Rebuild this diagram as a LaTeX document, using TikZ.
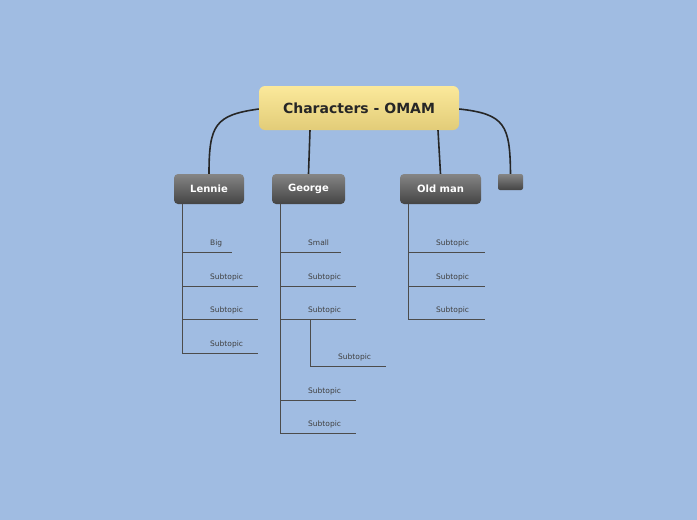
\documentclass[tikz,border=0pt]{standalone}
\usepackage{fontspec}
\setmainfont{DejaVu Sans}
\begin{document}
\begin{tikzpicture}[x=1pt,y=-1pt,
 root/.style={rounded corners=6pt,top color=rootT,bottom color=rootB,draw=none,minimum width=200pt,minimum height=44pt,font=\fontsize{14}{16}\selectfont\bfseries,text=black!85},
 topic/.style={rounded corners=4pt,top color=topT,bottom color=topB,draw=none,minimum height=30pt,font=\fontsize{10}{12}\selectfont\bfseries,text=white},
 conn/.style={draw=black!85,line width=1.6pt},
 sub/.style={draw=black!70,line width=0.6pt},
 lab/.style={font=\fontsize{7.5}{9}\selectfont,text=black!75,anchor=west,inner sep=0pt}]
\definecolor{bg}{HTML}{A0BCE2}
\definecolor{rootT}{HTML}{FBE99B}
\definecolor{rootB}{HTML}{E2CC78}
\definecolor{topT}{HTML}{858585}
\definecolor{topB}{HTML}{444444}
\fill[bg] (0,0) rectangle (697,520);
\useasboundingbox (0,0) rectangle (697,520);
\node[root] (r) at (359,108) {Characters - OMAM};
\node[topic,minimum width=70pt] (l) at (209,189) {Lennie};
\node[topic,minimum width=73pt] (g) at (308.5,189) {George};
\node[topic,minimum width=81pt] (o) at (440.5,189) {Old man};
\node[topic,minimum width=25pt,minimum height=16pt,rounded corners=2pt] (e) at (510.5,182) {};
\draw[conn] (r.west) ++(0,1) coordinate (a1) (a1) .. controls (215,115) and (209,125) .. (l.north);
\draw[conn] (r.south) ++(-49,0) coordinate (a2) (a2) -- (g.north);
\draw[conn] (r.south) ++(79,0) coordinate (a3) (a3) -- (o.north);
\draw[conn] (r.east) ++(0,1) coordinate (a4) (a4) .. controls (505,114) and (510,125) .. (e.north);
% Lennie
\coordinate (lv) at (182,204);
\draw[sub] (lv) -- (182,353);
\foreach \y/\e/\t in {252/232/Big,286/258/Subtopic,319/258/Subtopic,353/258/Subtopic}{
 \draw[sub] (182,\y) -- (\e,\y);
 \node[lab] at (210,\y-9) {\t};}
% George
\draw[sub] (280,204) -- (280,433);
\foreach \y/\e/\t in {252/341/Small,286/356/Subtopic,319/356/Subtopic,400/356/Subtopic,433/356/Subtopic}{
 \draw[sub] (280,\y) -- (\e,\y);
 \node[lab] at (308,\y-9) {\t};}
\draw[sub] (310,319) -- (310,366) -- (386,366);
\node[lab] at (338,357) {Subtopic};
% Old man
\draw[sub] (408,204) -- (408,319);
\foreach \y in {252,286,319}{
 \draw[sub] (408,\y) -- (485,\y);
 \node[lab] at (436,\y-9) {Subtopic};}
\end{tikzpicture}
\end{document}
